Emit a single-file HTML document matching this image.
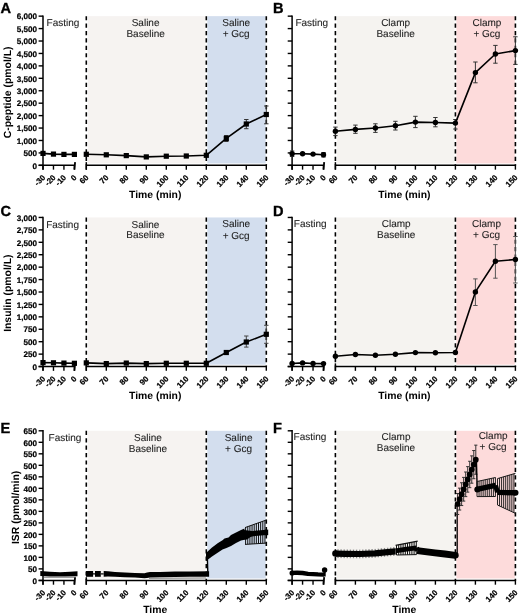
<!DOCTYPE html>
<html><head><meta charset="utf-8"><title>Figure</title>
<style>html,body{margin:0;padding:0;background:#fff;}body{width:520px;height:616px;overflow:hidden;}</style>
</head><body>
<svg width="520" height="616" viewBox="0 0 520 616" style="display:block" text-rendering="geometricPrecision">
<rect x="0" y="0" width="520" height="616" fill="#fff"/>
<rect x="87.9" y="16.15" width="117.4" height="147.3" fill="#f6f3f1"/>
<rect x="207.3" y="16.15" width="58.4" height="147.3" fill="#d3deee"/>
<text x="0.6" y="12.8" font-family='"Liberation Sans", Arial, sans-serif' font-weight="bold" font-size="14.6" stroke="#000" stroke-width="0.35">A</text>
<rect x="337" y="16.15" width="117.4" height="147.3" fill="#f5f3f0"/>
<rect x="456.4" y="16.15" width="58.4" height="147.3" fill="#fddbdb"/>
<text x="272.9" y="13.2" font-family='"Liberation Sans", Arial, sans-serif' font-weight="bold" font-size="14.6" stroke="#000" stroke-width="0.35">B</text>
<rect x="87.9" y="217.45" width="117.4" height="147.2" fill="#f6f3f1"/>
<rect x="207.3" y="217.45" width="58.4" height="147.2" fill="#d3deee"/>
<text x="0.6" y="215.9" font-family='"Liberation Sans", Arial, sans-serif' font-weight="bold" font-size="14.6" stroke="#000" stroke-width="0.35">C</text>
<rect x="337" y="217.45" width="117.4" height="147.2" fill="#f5f3f0"/>
<rect x="456.4" y="217.45" width="58.4" height="147.2" fill="#fddbdb"/>
<text x="272.9" y="215.9" font-family='"Liberation Sans", Arial, sans-serif' font-weight="bold" font-size="14.6" stroke="#000" stroke-width="0.35">D</text>
<rect x="87.9" y="430.8" width="117.4" height="147.7" fill="#f6f3f1"/>
<rect x="207.3" y="430.8" width="58.4" height="147.7" fill="#d3deee"/>
<text x="0.6" y="432.6" font-family='"Liberation Sans", Arial, sans-serif' font-weight="bold" font-size="14.6" stroke="#000" stroke-width="0.35">E</text>
<rect x="337" y="430.8" width="117.4" height="147.7" fill="#f5f3f0"/>
<rect x="456.4" y="430.8" width="58.4" height="147.7" fill="#fddbdb"/>
<text x="272.9" y="432.8" font-family='"Liberation Sans", Arial, sans-serif' font-weight="bold" font-size="14.6" stroke="#000" stroke-width="0.35">F</text>
<line x1="86.3" y1="16.15" x2="86.3" y2="165.35" stroke="#000" stroke-width="1.6" stroke-dasharray="4.2 3.2"/>
<line x1="206.3" y1="16.15" x2="206.3" y2="165.35" stroke="#000" stroke-width="1.6" stroke-dasharray="4.2 3.2"/>
<line x1="266.3" y1="16.15" x2="266.3" y2="165.35" stroke="#000" stroke-width="1.6" stroke-dasharray="4.2 3.2"/>
<line x1="43" y1="15.45" x2="43" y2="169.65" stroke="#000" stroke-width="1.5"/>
<line x1="38.6" y1="165.35" x2="43" y2="165.35" stroke="#000" stroke-width="1.4"/>
<text x="36.9" y="168.55" text-anchor="end" font-family='"Liberation Sans", Arial, sans-serif' font-weight="bold" font-size="8.1" stroke="#000" stroke-width="0.2">0</text>
<line x1="38.6" y1="152.92" x2="43" y2="152.92" stroke="#000" stroke-width="1.4"/>
<text x="36.9" y="156.12" text-anchor="end" font-family='"Liberation Sans", Arial, sans-serif' font-weight="bold" font-size="8.1" stroke="#000" stroke-width="0.2">500</text>
<line x1="38.6" y1="140.48" x2="43" y2="140.48" stroke="#000" stroke-width="1.4"/>
<text x="36.9" y="143.68" text-anchor="end" font-family='"Liberation Sans", Arial, sans-serif' font-weight="bold" font-size="8.1" stroke="#000" stroke-width="0.2">1,000</text>
<line x1="38.6" y1="128.05" x2="43" y2="128.05" stroke="#000" stroke-width="1.4"/>
<text x="36.9" y="131.25" text-anchor="end" font-family='"Liberation Sans", Arial, sans-serif' font-weight="bold" font-size="8.1" stroke="#000" stroke-width="0.2">1,500</text>
<line x1="38.6" y1="115.62" x2="43" y2="115.62" stroke="#000" stroke-width="1.4"/>
<text x="36.9" y="118.82" text-anchor="end" font-family='"Liberation Sans", Arial, sans-serif' font-weight="bold" font-size="8.1" stroke="#000" stroke-width="0.2">2,000</text>
<line x1="38.6" y1="103.18" x2="43" y2="103.18" stroke="#000" stroke-width="1.4"/>
<text x="36.9" y="106.38" text-anchor="end" font-family='"Liberation Sans", Arial, sans-serif' font-weight="bold" font-size="8.1" stroke="#000" stroke-width="0.2">2,500</text>
<line x1="38.6" y1="90.75" x2="43" y2="90.75" stroke="#000" stroke-width="1.4"/>
<text x="36.9" y="93.95" text-anchor="end" font-family='"Liberation Sans", Arial, sans-serif' font-weight="bold" font-size="8.1" stroke="#000" stroke-width="0.2">3,000</text>
<line x1="38.6" y1="78.32" x2="43" y2="78.32" stroke="#000" stroke-width="1.4"/>
<text x="36.9" y="81.52" text-anchor="end" font-family='"Liberation Sans", Arial, sans-serif' font-weight="bold" font-size="8.1" stroke="#000" stroke-width="0.2">3,500</text>
<line x1="38.6" y1="65.88" x2="43" y2="65.88" stroke="#000" stroke-width="1.4"/>
<text x="36.9" y="69.08" text-anchor="end" font-family='"Liberation Sans", Arial, sans-serif' font-weight="bold" font-size="8.1" stroke="#000" stroke-width="0.2">4,000</text>
<line x1="38.6" y1="53.45" x2="43" y2="53.45" stroke="#000" stroke-width="1.4"/>
<text x="36.9" y="56.65" text-anchor="end" font-family='"Liberation Sans", Arial, sans-serif' font-weight="bold" font-size="8.1" stroke="#000" stroke-width="0.2">4,500</text>
<line x1="38.6" y1="41.02" x2="43" y2="41.02" stroke="#000" stroke-width="1.4"/>
<text x="36.9" y="44.22" text-anchor="end" font-family='"Liberation Sans", Arial, sans-serif' font-weight="bold" font-size="8.1" stroke="#000" stroke-width="0.2">5,000</text>
<line x1="38.6" y1="28.58" x2="43" y2="28.58" stroke="#000" stroke-width="1.4"/>
<text x="36.9" y="31.78" text-anchor="end" font-family='"Liberation Sans", Arial, sans-serif' font-weight="bold" font-size="8.1" stroke="#000" stroke-width="0.2">5,500</text>
<line x1="38.6" y1="16.15" x2="43" y2="16.15" stroke="#000" stroke-width="1.4"/>
<text x="36.9" y="19.35" text-anchor="end" font-family='"Liberation Sans", Arial, sans-serif' font-weight="bold" font-size="8.1" stroke="#000" stroke-width="0.2">6,000</text>
<line x1="38.6" y1="165.35" x2="74.4" y2="165.35" stroke="#000" stroke-width="1.5"/>
<line x1="43" y1="165.35" x2="43" y2="169.65" stroke="#000" stroke-width="1.4"/>
<line x1="53.47" y1="165.35" x2="53.47" y2="169.65" stroke="#000" stroke-width="1.4"/>
<line x1="63.93" y1="165.35" x2="63.93" y2="169.65" stroke="#000" stroke-width="1.4"/>
<line x1="74.4" y1="165.35" x2="74.4" y2="169.65" stroke="#000" stroke-width="1.4"/>
<line x1="75.1" y1="162.05" x2="74.4" y2="169.55" stroke="#000" stroke-width="1.8"/>
<line x1="86.3" y1="165.35" x2="267" y2="165.35" stroke="#000" stroke-width="1.5"/>
<line x1="86.3" y1="162.15" x2="86.3" y2="169.65" stroke="#000" stroke-width="1.5"/>
<line x1="86.3" y1="165.35" x2="86.3" y2="169.65" stroke="#000" stroke-width="1.4"/>
<line x1="106.3" y1="165.35" x2="106.3" y2="169.65" stroke="#000" stroke-width="1.4"/>
<line x1="126.3" y1="165.35" x2="126.3" y2="169.65" stroke="#000" stroke-width="1.4"/>
<line x1="146.3" y1="165.35" x2="146.3" y2="169.65" stroke="#000" stroke-width="1.4"/>
<line x1="166.3" y1="165.35" x2="166.3" y2="169.65" stroke="#000" stroke-width="1.4"/>
<line x1="186.3" y1="165.35" x2="186.3" y2="169.65" stroke="#000" stroke-width="1.4"/>
<line x1="206.3" y1="165.35" x2="206.3" y2="169.65" stroke="#000" stroke-width="1.4"/>
<line x1="226.3" y1="165.35" x2="226.3" y2="169.65" stroke="#000" stroke-width="1.4"/>
<line x1="246.3" y1="165.35" x2="246.3" y2="169.65" stroke="#000" stroke-width="1.4"/>
<line x1="266.3" y1="165.35" x2="266.3" y2="169.65" stroke="#000" stroke-width="1.4"/>
<text transform="translate(45.8 178.05) rotate(-45)" text-anchor="end" font-family='"Liberation Sans", Arial, sans-serif' font-weight="bold" font-size="8.0" stroke="#000" stroke-width="0.2">-30</text>
<text transform="translate(56.27 178.05) rotate(-45)" text-anchor="end" font-family='"Liberation Sans", Arial, sans-serif' font-weight="bold" font-size="8.0" stroke="#000" stroke-width="0.2">-20</text>
<text transform="translate(66.73 178.05) rotate(-45)" text-anchor="end" font-family='"Liberation Sans", Arial, sans-serif' font-weight="bold" font-size="8.0" stroke="#000" stroke-width="0.2">-10</text>
<text transform="translate(77.2 178.05) rotate(-45)" text-anchor="end" font-family='"Liberation Sans", Arial, sans-serif' font-weight="bold" font-size="8.0" stroke="#000" stroke-width="0.2">0</text>
<text transform="translate(89.1 178.05) rotate(-45)" text-anchor="end" font-family='"Liberation Sans", Arial, sans-serif' font-weight="bold" font-size="8.0" stroke="#000" stroke-width="0.2">60</text>
<text transform="translate(109.1 178.05) rotate(-45)" text-anchor="end" font-family='"Liberation Sans", Arial, sans-serif' font-weight="bold" font-size="8.0" stroke="#000" stroke-width="0.2">70</text>
<text transform="translate(129.1 178.05) rotate(-45)" text-anchor="end" font-family='"Liberation Sans", Arial, sans-serif' font-weight="bold" font-size="8.0" stroke="#000" stroke-width="0.2">80</text>
<text transform="translate(149.1 178.05) rotate(-45)" text-anchor="end" font-family='"Liberation Sans", Arial, sans-serif' font-weight="bold" font-size="8.0" stroke="#000" stroke-width="0.2">90</text>
<text transform="translate(169.1 178.05) rotate(-45)" text-anchor="end" font-family='"Liberation Sans", Arial, sans-serif' font-weight="bold" font-size="8.0" stroke="#000" stroke-width="0.2">100</text>
<text transform="translate(189.1 178.05) rotate(-45)" text-anchor="end" font-family='"Liberation Sans", Arial, sans-serif' font-weight="bold" font-size="8.0" stroke="#000" stroke-width="0.2">110</text>
<text transform="translate(209.1 178.05) rotate(-45)" text-anchor="end" font-family='"Liberation Sans", Arial, sans-serif' font-weight="bold" font-size="8.0" stroke="#000" stroke-width="0.2">120</text>
<text transform="translate(229.1 178.05) rotate(-45)" text-anchor="end" font-family='"Liberation Sans", Arial, sans-serif' font-weight="bold" font-size="8.0" stroke="#000" stroke-width="0.2">130</text>
<text transform="translate(249.1 178.05) rotate(-45)" text-anchor="end" font-family='"Liberation Sans", Arial, sans-serif' font-weight="bold" font-size="8.0" stroke="#000" stroke-width="0.2">140</text>
<text transform="translate(269.1 178.05) rotate(-45)" text-anchor="end" font-family='"Liberation Sans", Arial, sans-serif' font-weight="bold" font-size="8.0" stroke="#000" stroke-width="0.2">150</text>
<text x="155.2" y="198.05" text-anchor="middle" font-family='"Liberation Sans", Arial, sans-serif' font-weight="bold" font-size="10.4">Time (min)</text>
<text transform="translate(11.2 92.4) rotate(-90)" text-anchor="middle" font-family='"Liberation Sans", Arial, sans-serif' font-weight="bold" font-size="10.4">C-peptide (pmol/L)</text>
<line x1="335.4" y1="16.15" x2="335.4" y2="165.35" stroke="#000" stroke-width="1.6" stroke-dasharray="4.2 3.2"/>
<line x1="455.4" y1="16.15" x2="455.4" y2="165.35" stroke="#000" stroke-width="1.6" stroke-dasharray="4.2 3.2"/>
<line x1="515.4" y1="16.15" x2="515.4" y2="165.35" stroke="#000" stroke-width="1.6" stroke-dasharray="4.2 3.2"/>
<line x1="292.1" y1="15.45" x2="292.1" y2="169.65" stroke="#000" stroke-width="1.5"/>
<line x1="287.7" y1="165.35" x2="292.1" y2="165.35" stroke="#000" stroke-width="1.4"/>
<line x1="287.7" y1="152.92" x2="292.1" y2="152.92" stroke="#000" stroke-width="1.4"/>
<line x1="287.7" y1="140.48" x2="292.1" y2="140.48" stroke="#000" stroke-width="1.4"/>
<line x1="287.7" y1="128.05" x2="292.1" y2="128.05" stroke="#000" stroke-width="1.4"/>
<line x1="287.7" y1="115.62" x2="292.1" y2="115.62" stroke="#000" stroke-width="1.4"/>
<line x1="287.7" y1="103.18" x2="292.1" y2="103.18" stroke="#000" stroke-width="1.4"/>
<line x1="287.7" y1="90.75" x2="292.1" y2="90.75" stroke="#000" stroke-width="1.4"/>
<line x1="287.7" y1="78.32" x2="292.1" y2="78.32" stroke="#000" stroke-width="1.4"/>
<line x1="287.7" y1="65.88" x2="292.1" y2="65.88" stroke="#000" stroke-width="1.4"/>
<line x1="287.7" y1="53.45" x2="292.1" y2="53.45" stroke="#000" stroke-width="1.4"/>
<line x1="287.7" y1="41.02" x2="292.1" y2="41.02" stroke="#000" stroke-width="1.4"/>
<line x1="287.7" y1="28.58" x2="292.1" y2="28.58" stroke="#000" stroke-width="1.4"/>
<line x1="287.7" y1="16.15" x2="292.1" y2="16.15" stroke="#000" stroke-width="1.4"/>
<line x1="287.7" y1="165.35" x2="323.5" y2="165.35" stroke="#000" stroke-width="1.5"/>
<line x1="292.1" y1="165.35" x2="292.1" y2="169.65" stroke="#000" stroke-width="1.4"/>
<line x1="302.57" y1="165.35" x2="302.57" y2="169.65" stroke="#000" stroke-width="1.4"/>
<line x1="313.03" y1="165.35" x2="313.03" y2="169.65" stroke="#000" stroke-width="1.4"/>
<line x1="323.5" y1="165.35" x2="323.5" y2="169.65" stroke="#000" stroke-width="1.4"/>
<line x1="324.2" y1="162.05" x2="323.5" y2="169.55" stroke="#000" stroke-width="1.8"/>
<line x1="335.4" y1="165.35" x2="516.1" y2="165.35" stroke="#000" stroke-width="1.5"/>
<line x1="335.4" y1="162.15" x2="335.4" y2="169.65" stroke="#000" stroke-width="1.5"/>
<line x1="335.4" y1="165.35" x2="335.4" y2="169.65" stroke="#000" stroke-width="1.4"/>
<line x1="355.4" y1="165.35" x2="355.4" y2="169.65" stroke="#000" stroke-width="1.4"/>
<line x1="375.4" y1="165.35" x2="375.4" y2="169.65" stroke="#000" stroke-width="1.4"/>
<line x1="395.4" y1="165.35" x2="395.4" y2="169.65" stroke="#000" stroke-width="1.4"/>
<line x1="415.4" y1="165.35" x2="415.4" y2="169.65" stroke="#000" stroke-width="1.4"/>
<line x1="435.4" y1="165.35" x2="435.4" y2="169.65" stroke="#000" stroke-width="1.4"/>
<line x1="455.4" y1="165.35" x2="455.4" y2="169.65" stroke="#000" stroke-width="1.4"/>
<line x1="475.4" y1="165.35" x2="475.4" y2="169.65" stroke="#000" stroke-width="1.4"/>
<line x1="495.4" y1="165.35" x2="495.4" y2="169.65" stroke="#000" stroke-width="1.4"/>
<line x1="515.4" y1="165.35" x2="515.4" y2="169.65" stroke="#000" stroke-width="1.4"/>
<text transform="translate(294.9 178.05) rotate(-45)" text-anchor="end" font-family='"Liberation Sans", Arial, sans-serif' font-weight="bold" font-size="8.0" stroke="#000" stroke-width="0.2">-30</text>
<text transform="translate(305.37 178.05) rotate(-45)" text-anchor="end" font-family='"Liberation Sans", Arial, sans-serif' font-weight="bold" font-size="8.0" stroke="#000" stroke-width="0.2">-20</text>
<text transform="translate(315.83 178.05) rotate(-45)" text-anchor="end" font-family='"Liberation Sans", Arial, sans-serif' font-weight="bold" font-size="8.0" stroke="#000" stroke-width="0.2">-10</text>
<text transform="translate(326.3 178.05) rotate(-45)" text-anchor="end" font-family='"Liberation Sans", Arial, sans-serif' font-weight="bold" font-size="8.0" stroke="#000" stroke-width="0.2">0</text>
<text transform="translate(338.2 178.05) rotate(-45)" text-anchor="end" font-family='"Liberation Sans", Arial, sans-serif' font-weight="bold" font-size="8.0" stroke="#000" stroke-width="0.2">60</text>
<text transform="translate(358.2 178.05) rotate(-45)" text-anchor="end" font-family='"Liberation Sans", Arial, sans-serif' font-weight="bold" font-size="8.0" stroke="#000" stroke-width="0.2">70</text>
<text transform="translate(378.2 178.05) rotate(-45)" text-anchor="end" font-family='"Liberation Sans", Arial, sans-serif' font-weight="bold" font-size="8.0" stroke="#000" stroke-width="0.2">80</text>
<text transform="translate(398.2 178.05) rotate(-45)" text-anchor="end" font-family='"Liberation Sans", Arial, sans-serif' font-weight="bold" font-size="8.0" stroke="#000" stroke-width="0.2">90</text>
<text transform="translate(418.2 178.05) rotate(-45)" text-anchor="end" font-family='"Liberation Sans", Arial, sans-serif' font-weight="bold" font-size="8.0" stroke="#000" stroke-width="0.2">100</text>
<text transform="translate(438.2 178.05) rotate(-45)" text-anchor="end" font-family='"Liberation Sans", Arial, sans-serif' font-weight="bold" font-size="8.0" stroke="#000" stroke-width="0.2">110</text>
<text transform="translate(458.2 178.05) rotate(-45)" text-anchor="end" font-family='"Liberation Sans", Arial, sans-serif' font-weight="bold" font-size="8.0" stroke="#000" stroke-width="0.2">120</text>
<text transform="translate(478.2 178.05) rotate(-45)" text-anchor="end" font-family='"Liberation Sans", Arial, sans-serif' font-weight="bold" font-size="8.0" stroke="#000" stroke-width="0.2">130</text>
<text transform="translate(498.2 178.05) rotate(-45)" text-anchor="end" font-family='"Liberation Sans", Arial, sans-serif' font-weight="bold" font-size="8.0" stroke="#000" stroke-width="0.2">140</text>
<text transform="translate(518.2 178.05) rotate(-45)" text-anchor="end" font-family='"Liberation Sans", Arial, sans-serif' font-weight="bold" font-size="8.0" stroke="#000" stroke-width="0.2">150</text>
<text x="404.3" y="198.05" text-anchor="middle" font-family='"Liberation Sans", Arial, sans-serif' font-weight="bold" font-size="10.4">Time (min)</text>
<line x1="86.3" y1="217.45" x2="86.3" y2="366.55" stroke="#000" stroke-width="1.6" stroke-dasharray="4.2 3.2"/>
<line x1="206.3" y1="217.45" x2="206.3" y2="366.55" stroke="#000" stroke-width="1.6" stroke-dasharray="4.2 3.2"/>
<line x1="266.3" y1="217.45" x2="266.3" y2="366.55" stroke="#000" stroke-width="1.6" stroke-dasharray="4.2 3.2"/>
<line x1="43" y1="216.75" x2="43" y2="370.85" stroke="#000" stroke-width="1.5"/>
<line x1="38.6" y1="366.55" x2="43" y2="366.55" stroke="#000" stroke-width="1.4"/>
<text x="36.9" y="369.75" text-anchor="end" font-family='"Liberation Sans", Arial, sans-serif' font-weight="bold" font-size="8.1" stroke="#000" stroke-width="0.2">0</text>
<line x1="38.6" y1="354.12" x2="43" y2="354.12" stroke="#000" stroke-width="1.4"/>
<text x="36.9" y="357.32" text-anchor="end" font-family='"Liberation Sans", Arial, sans-serif' font-weight="bold" font-size="8.1" stroke="#000" stroke-width="0.2">250</text>
<line x1="38.6" y1="341.7" x2="43" y2="341.7" stroke="#000" stroke-width="1.4"/>
<text x="36.9" y="344.9" text-anchor="end" font-family='"Liberation Sans", Arial, sans-serif' font-weight="bold" font-size="8.1" stroke="#000" stroke-width="0.2">500</text>
<line x1="38.6" y1="329.27" x2="43" y2="329.27" stroke="#000" stroke-width="1.4"/>
<text x="36.9" y="332.47" text-anchor="end" font-family='"Liberation Sans", Arial, sans-serif' font-weight="bold" font-size="8.1" stroke="#000" stroke-width="0.2">750</text>
<line x1="38.6" y1="316.85" x2="43" y2="316.85" stroke="#000" stroke-width="1.4"/>
<text x="36.9" y="320.05" text-anchor="end" font-family='"Liberation Sans", Arial, sans-serif' font-weight="bold" font-size="8.1" stroke="#000" stroke-width="0.2">1,000</text>
<line x1="38.6" y1="304.43" x2="43" y2="304.43" stroke="#000" stroke-width="1.4"/>
<text x="36.9" y="307.62" text-anchor="end" font-family='"Liberation Sans", Arial, sans-serif' font-weight="bold" font-size="8.1" stroke="#000" stroke-width="0.2">1,250</text>
<line x1="38.6" y1="292" x2="43" y2="292" stroke="#000" stroke-width="1.4"/>
<text x="36.9" y="295.2" text-anchor="end" font-family='"Liberation Sans", Arial, sans-serif' font-weight="bold" font-size="8.1" stroke="#000" stroke-width="0.2">1,500</text>
<line x1="38.6" y1="279.57" x2="43" y2="279.57" stroke="#000" stroke-width="1.4"/>
<text x="36.9" y="282.77" text-anchor="end" font-family='"Liberation Sans", Arial, sans-serif' font-weight="bold" font-size="8.1" stroke="#000" stroke-width="0.2">1,750</text>
<line x1="38.6" y1="267.15" x2="43" y2="267.15" stroke="#000" stroke-width="1.4"/>
<text x="36.9" y="270.35" text-anchor="end" font-family='"Liberation Sans", Arial, sans-serif' font-weight="bold" font-size="8.1" stroke="#000" stroke-width="0.2">2,000</text>
<line x1="38.6" y1="254.72" x2="43" y2="254.72" stroke="#000" stroke-width="1.4"/>
<text x="36.9" y="257.93" text-anchor="end" font-family='"Liberation Sans", Arial, sans-serif' font-weight="bold" font-size="8.1" stroke="#000" stroke-width="0.2">2,250</text>
<line x1="38.6" y1="242.3" x2="43" y2="242.3" stroke="#000" stroke-width="1.4"/>
<text x="36.9" y="245.5" text-anchor="end" font-family='"Liberation Sans", Arial, sans-serif' font-weight="bold" font-size="8.1" stroke="#000" stroke-width="0.2">2,500</text>
<line x1="38.6" y1="229.88" x2="43" y2="229.88" stroke="#000" stroke-width="1.4"/>
<text x="36.9" y="233.07" text-anchor="end" font-family='"Liberation Sans", Arial, sans-serif' font-weight="bold" font-size="8.1" stroke="#000" stroke-width="0.2">2,750</text>
<line x1="38.6" y1="217.45" x2="43" y2="217.45" stroke="#000" stroke-width="1.4"/>
<text x="36.9" y="220.65" text-anchor="end" font-family='"Liberation Sans", Arial, sans-serif' font-weight="bold" font-size="8.1" stroke="#000" stroke-width="0.2">3,000</text>
<line x1="38.6" y1="366.55" x2="74.4" y2="366.55" stroke="#000" stroke-width="1.5"/>
<line x1="43" y1="366.55" x2="43" y2="370.85" stroke="#000" stroke-width="1.4"/>
<line x1="53.47" y1="366.55" x2="53.47" y2="370.85" stroke="#000" stroke-width="1.4"/>
<line x1="63.93" y1="366.55" x2="63.93" y2="370.85" stroke="#000" stroke-width="1.4"/>
<line x1="74.4" y1="366.55" x2="74.4" y2="370.85" stroke="#000" stroke-width="1.4"/>
<line x1="75.1" y1="363.25" x2="74.4" y2="370.75" stroke="#000" stroke-width="1.8"/>
<line x1="86.3" y1="366.55" x2="267" y2="366.55" stroke="#000" stroke-width="1.5"/>
<line x1="86.3" y1="363.35" x2="86.3" y2="370.85" stroke="#000" stroke-width="1.5"/>
<line x1="86.3" y1="366.55" x2="86.3" y2="370.85" stroke="#000" stroke-width="1.4"/>
<line x1="106.3" y1="366.55" x2="106.3" y2="370.85" stroke="#000" stroke-width="1.4"/>
<line x1="126.3" y1="366.55" x2="126.3" y2="370.85" stroke="#000" stroke-width="1.4"/>
<line x1="146.3" y1="366.55" x2="146.3" y2="370.85" stroke="#000" stroke-width="1.4"/>
<line x1="166.3" y1="366.55" x2="166.3" y2="370.85" stroke="#000" stroke-width="1.4"/>
<line x1="186.3" y1="366.55" x2="186.3" y2="370.85" stroke="#000" stroke-width="1.4"/>
<line x1="206.3" y1="366.55" x2="206.3" y2="370.85" stroke="#000" stroke-width="1.4"/>
<line x1="226.3" y1="366.55" x2="226.3" y2="370.85" stroke="#000" stroke-width="1.4"/>
<line x1="246.3" y1="366.55" x2="246.3" y2="370.85" stroke="#000" stroke-width="1.4"/>
<line x1="266.3" y1="366.55" x2="266.3" y2="370.85" stroke="#000" stroke-width="1.4"/>
<text transform="translate(45.8 379.25) rotate(-45)" text-anchor="end" font-family='"Liberation Sans", Arial, sans-serif' font-weight="bold" font-size="8.0" stroke="#000" stroke-width="0.2">-30</text>
<text transform="translate(56.27 379.25) rotate(-45)" text-anchor="end" font-family='"Liberation Sans", Arial, sans-serif' font-weight="bold" font-size="8.0" stroke="#000" stroke-width="0.2">-20</text>
<text transform="translate(66.73 379.25) rotate(-45)" text-anchor="end" font-family='"Liberation Sans", Arial, sans-serif' font-weight="bold" font-size="8.0" stroke="#000" stroke-width="0.2">-10</text>
<text transform="translate(77.2 379.25) rotate(-45)" text-anchor="end" font-family='"Liberation Sans", Arial, sans-serif' font-weight="bold" font-size="8.0" stroke="#000" stroke-width="0.2">0</text>
<text transform="translate(89.1 379.25) rotate(-45)" text-anchor="end" font-family='"Liberation Sans", Arial, sans-serif' font-weight="bold" font-size="8.0" stroke="#000" stroke-width="0.2">60</text>
<text transform="translate(109.1 379.25) rotate(-45)" text-anchor="end" font-family='"Liberation Sans", Arial, sans-serif' font-weight="bold" font-size="8.0" stroke="#000" stroke-width="0.2">70</text>
<text transform="translate(129.1 379.25) rotate(-45)" text-anchor="end" font-family='"Liberation Sans", Arial, sans-serif' font-weight="bold" font-size="8.0" stroke="#000" stroke-width="0.2">80</text>
<text transform="translate(149.1 379.25) rotate(-45)" text-anchor="end" font-family='"Liberation Sans", Arial, sans-serif' font-weight="bold" font-size="8.0" stroke="#000" stroke-width="0.2">90</text>
<text transform="translate(169.1 379.25) rotate(-45)" text-anchor="end" font-family='"Liberation Sans", Arial, sans-serif' font-weight="bold" font-size="8.0" stroke="#000" stroke-width="0.2">100</text>
<text transform="translate(189.1 379.25) rotate(-45)" text-anchor="end" font-family='"Liberation Sans", Arial, sans-serif' font-weight="bold" font-size="8.0" stroke="#000" stroke-width="0.2">110</text>
<text transform="translate(209.1 379.25) rotate(-45)" text-anchor="end" font-family='"Liberation Sans", Arial, sans-serif' font-weight="bold" font-size="8.0" stroke="#000" stroke-width="0.2">120</text>
<text transform="translate(229.1 379.25) rotate(-45)" text-anchor="end" font-family='"Liberation Sans", Arial, sans-serif' font-weight="bold" font-size="8.0" stroke="#000" stroke-width="0.2">130</text>
<text transform="translate(249.1 379.25) rotate(-45)" text-anchor="end" font-family='"Liberation Sans", Arial, sans-serif' font-weight="bold" font-size="8.0" stroke="#000" stroke-width="0.2">140</text>
<text transform="translate(269.1 379.25) rotate(-45)" text-anchor="end" font-family='"Liberation Sans", Arial, sans-serif' font-weight="bold" font-size="8.0" stroke="#000" stroke-width="0.2">150</text>
<text x="155.2" y="399.25" text-anchor="middle" font-family='"Liberation Sans", Arial, sans-serif' font-weight="bold" font-size="10.4">Time (min)</text>
<text transform="translate(11.2 293.2) rotate(-90)" text-anchor="middle" font-family='"Liberation Sans", Arial, sans-serif' font-weight="bold" font-size="10.4">Insulin (pmol/L)</text>
<line x1="335.4" y1="217.45" x2="335.4" y2="366.55" stroke="#000" stroke-width="1.6" stroke-dasharray="4.2 3.2"/>
<line x1="455.4" y1="217.45" x2="455.4" y2="366.55" stroke="#000" stroke-width="1.6" stroke-dasharray="4.2 3.2"/>
<line x1="515.4" y1="217.45" x2="515.4" y2="366.55" stroke="#000" stroke-width="1.6" stroke-dasharray="4.2 3.2"/>
<line x1="292.1" y1="216.75" x2="292.1" y2="370.85" stroke="#000" stroke-width="1.5"/>
<line x1="287.7" y1="366.55" x2="292.1" y2="366.55" stroke="#000" stroke-width="1.4"/>
<line x1="287.7" y1="354.12" x2="292.1" y2="354.12" stroke="#000" stroke-width="1.4"/>
<line x1="287.7" y1="341.7" x2="292.1" y2="341.7" stroke="#000" stroke-width="1.4"/>
<line x1="287.7" y1="329.27" x2="292.1" y2="329.27" stroke="#000" stroke-width="1.4"/>
<line x1="287.7" y1="316.85" x2="292.1" y2="316.85" stroke="#000" stroke-width="1.4"/>
<line x1="287.7" y1="304.43" x2="292.1" y2="304.43" stroke="#000" stroke-width="1.4"/>
<line x1="287.7" y1="292" x2="292.1" y2="292" stroke="#000" stroke-width="1.4"/>
<line x1="287.7" y1="279.57" x2="292.1" y2="279.57" stroke="#000" stroke-width="1.4"/>
<line x1="287.7" y1="267.15" x2="292.1" y2="267.15" stroke="#000" stroke-width="1.4"/>
<line x1="287.7" y1="254.72" x2="292.1" y2="254.72" stroke="#000" stroke-width="1.4"/>
<line x1="287.7" y1="242.3" x2="292.1" y2="242.3" stroke="#000" stroke-width="1.4"/>
<line x1="287.7" y1="229.88" x2="292.1" y2="229.88" stroke="#000" stroke-width="1.4"/>
<line x1="287.7" y1="217.45" x2="292.1" y2="217.45" stroke="#000" stroke-width="1.4"/>
<line x1="287.7" y1="366.55" x2="323.5" y2="366.55" stroke="#000" stroke-width="1.5"/>
<line x1="292.1" y1="366.55" x2="292.1" y2="370.85" stroke="#000" stroke-width="1.4"/>
<line x1="302.57" y1="366.55" x2="302.57" y2="370.85" stroke="#000" stroke-width="1.4"/>
<line x1="313.03" y1="366.55" x2="313.03" y2="370.85" stroke="#000" stroke-width="1.4"/>
<line x1="323.5" y1="366.55" x2="323.5" y2="370.85" stroke="#000" stroke-width="1.4"/>
<line x1="324.2" y1="363.25" x2="323.5" y2="370.75" stroke="#000" stroke-width="1.8"/>
<line x1="335.4" y1="366.55" x2="516.1" y2="366.55" stroke="#000" stroke-width="1.5"/>
<line x1="335.4" y1="363.35" x2="335.4" y2="370.85" stroke="#000" stroke-width="1.5"/>
<line x1="335.4" y1="366.55" x2="335.4" y2="370.85" stroke="#000" stroke-width="1.4"/>
<line x1="355.4" y1="366.55" x2="355.4" y2="370.85" stroke="#000" stroke-width="1.4"/>
<line x1="375.4" y1="366.55" x2="375.4" y2="370.85" stroke="#000" stroke-width="1.4"/>
<line x1="395.4" y1="366.55" x2="395.4" y2="370.85" stroke="#000" stroke-width="1.4"/>
<line x1="415.4" y1="366.55" x2="415.4" y2="370.85" stroke="#000" stroke-width="1.4"/>
<line x1="435.4" y1="366.55" x2="435.4" y2="370.85" stroke="#000" stroke-width="1.4"/>
<line x1="455.4" y1="366.55" x2="455.4" y2="370.85" stroke="#000" stroke-width="1.4"/>
<line x1="475.4" y1="366.55" x2="475.4" y2="370.85" stroke="#000" stroke-width="1.4"/>
<line x1="495.4" y1="366.55" x2="495.4" y2="370.85" stroke="#000" stroke-width="1.4"/>
<line x1="515.4" y1="366.55" x2="515.4" y2="370.85" stroke="#000" stroke-width="1.4"/>
<text transform="translate(294.9 379.25) rotate(-45)" text-anchor="end" font-family='"Liberation Sans", Arial, sans-serif' font-weight="bold" font-size="8.0" stroke="#000" stroke-width="0.2">-30</text>
<text transform="translate(305.37 379.25) rotate(-45)" text-anchor="end" font-family='"Liberation Sans", Arial, sans-serif' font-weight="bold" font-size="8.0" stroke="#000" stroke-width="0.2">-20</text>
<text transform="translate(315.83 379.25) rotate(-45)" text-anchor="end" font-family='"Liberation Sans", Arial, sans-serif' font-weight="bold" font-size="8.0" stroke="#000" stroke-width="0.2">-10</text>
<text transform="translate(326.3 379.25) rotate(-45)" text-anchor="end" font-family='"Liberation Sans", Arial, sans-serif' font-weight="bold" font-size="8.0" stroke="#000" stroke-width="0.2">0</text>
<text transform="translate(338.2 379.25) rotate(-45)" text-anchor="end" font-family='"Liberation Sans", Arial, sans-serif' font-weight="bold" font-size="8.0" stroke="#000" stroke-width="0.2">60</text>
<text transform="translate(358.2 379.25) rotate(-45)" text-anchor="end" font-family='"Liberation Sans", Arial, sans-serif' font-weight="bold" font-size="8.0" stroke="#000" stroke-width="0.2">70</text>
<text transform="translate(378.2 379.25) rotate(-45)" text-anchor="end" font-family='"Liberation Sans", Arial, sans-serif' font-weight="bold" font-size="8.0" stroke="#000" stroke-width="0.2">80</text>
<text transform="translate(398.2 379.25) rotate(-45)" text-anchor="end" font-family='"Liberation Sans", Arial, sans-serif' font-weight="bold" font-size="8.0" stroke="#000" stroke-width="0.2">90</text>
<text transform="translate(418.2 379.25) rotate(-45)" text-anchor="end" font-family='"Liberation Sans", Arial, sans-serif' font-weight="bold" font-size="8.0" stroke="#000" stroke-width="0.2">100</text>
<text transform="translate(438.2 379.25) rotate(-45)" text-anchor="end" font-family='"Liberation Sans", Arial, sans-serif' font-weight="bold" font-size="8.0" stroke="#000" stroke-width="0.2">110</text>
<text transform="translate(458.2 379.25) rotate(-45)" text-anchor="end" font-family='"Liberation Sans", Arial, sans-serif' font-weight="bold" font-size="8.0" stroke="#000" stroke-width="0.2">120</text>
<text transform="translate(478.2 379.25) rotate(-45)" text-anchor="end" font-family='"Liberation Sans", Arial, sans-serif' font-weight="bold" font-size="8.0" stroke="#000" stroke-width="0.2">130</text>
<text transform="translate(498.2 379.25) rotate(-45)" text-anchor="end" font-family='"Liberation Sans", Arial, sans-serif' font-weight="bold" font-size="8.0" stroke="#000" stroke-width="0.2">140</text>
<text transform="translate(518.2 379.25) rotate(-45)" text-anchor="end" font-family='"Liberation Sans", Arial, sans-serif' font-weight="bold" font-size="8.0" stroke="#000" stroke-width="0.2">150</text>
<text x="404.3" y="399.25" text-anchor="middle" font-family='"Liberation Sans", Arial, sans-serif' font-weight="bold" font-size="10.4">Time (min)</text>
<line x1="86.3" y1="430.8" x2="86.3" y2="580.4" stroke="#000" stroke-width="1.6" stroke-dasharray="4.2 3.2"/>
<line x1="206.3" y1="430.8" x2="206.3" y2="580.4" stroke="#000" stroke-width="1.6" stroke-dasharray="4.2 3.2"/>
<line x1="266.3" y1="430.8" x2="266.3" y2="580.4" stroke="#000" stroke-width="1.6" stroke-dasharray="4.2 3.2"/>
<line x1="43" y1="430.1" x2="43" y2="584.7" stroke="#000" stroke-width="1.5"/>
<line x1="38.6" y1="580.4" x2="43" y2="580.4" stroke="#000" stroke-width="1.4"/>
<text x="36.9" y="583.6" text-anchor="end" font-family='"Liberation Sans", Arial, sans-serif' font-weight="bold" font-size="8.1" stroke="#000" stroke-width="0.2">0</text>
<line x1="38.6" y1="568.89" x2="43" y2="568.89" stroke="#000" stroke-width="1.4"/>
<text x="36.9" y="572.09" text-anchor="end" font-family='"Liberation Sans", Arial, sans-serif' font-weight="bold" font-size="8.1" stroke="#000" stroke-width="0.2">50</text>
<line x1="38.6" y1="557.38" x2="43" y2="557.38" stroke="#000" stroke-width="1.4"/>
<text x="36.9" y="560.58" text-anchor="end" font-family='"Liberation Sans", Arial, sans-serif' font-weight="bold" font-size="8.1" stroke="#000" stroke-width="0.2">100</text>
<line x1="38.6" y1="545.88" x2="43" y2="545.88" stroke="#000" stroke-width="1.4"/>
<text x="36.9" y="549.08" text-anchor="end" font-family='"Liberation Sans", Arial, sans-serif' font-weight="bold" font-size="8.1" stroke="#000" stroke-width="0.2">150</text>
<line x1="38.6" y1="534.37" x2="43" y2="534.37" stroke="#000" stroke-width="1.4"/>
<text x="36.9" y="537.57" text-anchor="end" font-family='"Liberation Sans", Arial, sans-serif' font-weight="bold" font-size="8.1" stroke="#000" stroke-width="0.2">200</text>
<line x1="38.6" y1="522.86" x2="43" y2="522.86" stroke="#000" stroke-width="1.4"/>
<text x="36.9" y="526.06" text-anchor="end" font-family='"Liberation Sans", Arial, sans-serif' font-weight="bold" font-size="8.1" stroke="#000" stroke-width="0.2">250</text>
<line x1="38.6" y1="511.35" x2="43" y2="511.35" stroke="#000" stroke-width="1.4"/>
<text x="36.9" y="514.55" text-anchor="end" font-family='"Liberation Sans", Arial, sans-serif' font-weight="bold" font-size="8.1" stroke="#000" stroke-width="0.2">300</text>
<line x1="38.6" y1="499.85" x2="43" y2="499.85" stroke="#000" stroke-width="1.4"/>
<text x="36.9" y="503.05" text-anchor="end" font-family='"Liberation Sans", Arial, sans-serif' font-weight="bold" font-size="8.1" stroke="#000" stroke-width="0.2">350</text>
<line x1="38.6" y1="488.34" x2="43" y2="488.34" stroke="#000" stroke-width="1.4"/>
<text x="36.9" y="491.54" text-anchor="end" font-family='"Liberation Sans", Arial, sans-serif' font-weight="bold" font-size="8.1" stroke="#000" stroke-width="0.2">400</text>
<line x1="38.6" y1="476.83" x2="43" y2="476.83" stroke="#000" stroke-width="1.4"/>
<text x="36.9" y="480.03" text-anchor="end" font-family='"Liberation Sans", Arial, sans-serif' font-weight="bold" font-size="8.1" stroke="#000" stroke-width="0.2">450</text>
<line x1="38.6" y1="465.32" x2="43" y2="465.32" stroke="#000" stroke-width="1.4"/>
<text x="36.9" y="468.52" text-anchor="end" font-family='"Liberation Sans", Arial, sans-serif' font-weight="bold" font-size="8.1" stroke="#000" stroke-width="0.2">500</text>
<line x1="38.6" y1="453.82" x2="43" y2="453.82" stroke="#000" stroke-width="1.4"/>
<text x="36.9" y="457.02" text-anchor="end" font-family='"Liberation Sans", Arial, sans-serif' font-weight="bold" font-size="8.1" stroke="#000" stroke-width="0.2">550</text>
<line x1="38.6" y1="442.31" x2="43" y2="442.31" stroke="#000" stroke-width="1.4"/>
<text x="36.9" y="445.51" text-anchor="end" font-family='"Liberation Sans", Arial, sans-serif' font-weight="bold" font-size="8.1" stroke="#000" stroke-width="0.2">600</text>
<line x1="38.6" y1="430.8" x2="43" y2="430.8" stroke="#000" stroke-width="1.4"/>
<text x="36.9" y="434" text-anchor="end" font-family='"Liberation Sans", Arial, sans-serif' font-weight="bold" font-size="8.1" stroke="#000" stroke-width="0.2">650</text>
<line x1="38.6" y1="580.4" x2="74.4" y2="580.4" stroke="#000" stroke-width="1.5"/>
<line x1="43" y1="580.4" x2="43" y2="584.7" stroke="#000" stroke-width="1.4"/>
<line x1="53.47" y1="580.4" x2="53.47" y2="584.7" stroke="#000" stroke-width="1.4"/>
<line x1="63.93" y1="580.4" x2="63.93" y2="584.7" stroke="#000" stroke-width="1.4"/>
<line x1="74.4" y1="580.4" x2="74.4" y2="584.7" stroke="#000" stroke-width="1.4"/>
<line x1="75.1" y1="577.1" x2="74.4" y2="584.6" stroke="#000" stroke-width="1.8"/>
<line x1="86.3" y1="580.4" x2="267" y2="580.4" stroke="#000" stroke-width="1.5"/>
<line x1="86.3" y1="577.2" x2="86.3" y2="584.7" stroke="#000" stroke-width="1.5"/>
<line x1="86.3" y1="580.4" x2="86.3" y2="584.7" stroke="#000" stroke-width="1.4"/>
<line x1="106.3" y1="580.4" x2="106.3" y2="584.7" stroke="#000" stroke-width="1.4"/>
<line x1="126.3" y1="580.4" x2="126.3" y2="584.7" stroke="#000" stroke-width="1.4"/>
<line x1="146.3" y1="580.4" x2="146.3" y2="584.7" stroke="#000" stroke-width="1.4"/>
<line x1="166.3" y1="580.4" x2="166.3" y2="584.7" stroke="#000" stroke-width="1.4"/>
<line x1="186.3" y1="580.4" x2="186.3" y2="584.7" stroke="#000" stroke-width="1.4"/>
<line x1="206.3" y1="580.4" x2="206.3" y2="584.7" stroke="#000" stroke-width="1.4"/>
<line x1="226.3" y1="580.4" x2="226.3" y2="584.7" stroke="#000" stroke-width="1.4"/>
<line x1="246.3" y1="580.4" x2="246.3" y2="584.7" stroke="#000" stroke-width="1.4"/>
<line x1="266.3" y1="580.4" x2="266.3" y2="584.7" stroke="#000" stroke-width="1.4"/>
<text transform="translate(45.8 593.1) rotate(-45)" text-anchor="end" font-family='"Liberation Sans", Arial, sans-serif' font-weight="bold" font-size="8.0" stroke="#000" stroke-width="0.2">-30</text>
<text transform="translate(56.27 593.1) rotate(-45)" text-anchor="end" font-family='"Liberation Sans", Arial, sans-serif' font-weight="bold" font-size="8.0" stroke="#000" stroke-width="0.2">-20</text>
<text transform="translate(66.73 593.1) rotate(-45)" text-anchor="end" font-family='"Liberation Sans", Arial, sans-serif' font-weight="bold" font-size="8.0" stroke="#000" stroke-width="0.2">-10</text>
<text transform="translate(77.2 593.1) rotate(-45)" text-anchor="end" font-family='"Liberation Sans", Arial, sans-serif' font-weight="bold" font-size="8.0" stroke="#000" stroke-width="0.2">0</text>
<text transform="translate(89.1 593.1) rotate(-45)" text-anchor="end" font-family='"Liberation Sans", Arial, sans-serif' font-weight="bold" font-size="8.0" stroke="#000" stroke-width="0.2">60</text>
<text transform="translate(109.1 593.1) rotate(-45)" text-anchor="end" font-family='"Liberation Sans", Arial, sans-serif' font-weight="bold" font-size="8.0" stroke="#000" stroke-width="0.2">70</text>
<text transform="translate(129.1 593.1) rotate(-45)" text-anchor="end" font-family='"Liberation Sans", Arial, sans-serif' font-weight="bold" font-size="8.0" stroke="#000" stroke-width="0.2">80</text>
<text transform="translate(149.1 593.1) rotate(-45)" text-anchor="end" font-family='"Liberation Sans", Arial, sans-serif' font-weight="bold" font-size="8.0" stroke="#000" stroke-width="0.2">90</text>
<text transform="translate(169.1 593.1) rotate(-45)" text-anchor="end" font-family='"Liberation Sans", Arial, sans-serif' font-weight="bold" font-size="8.0" stroke="#000" stroke-width="0.2">100</text>
<text transform="translate(189.1 593.1) rotate(-45)" text-anchor="end" font-family='"Liberation Sans", Arial, sans-serif' font-weight="bold" font-size="8.0" stroke="#000" stroke-width="0.2">110</text>
<text transform="translate(209.1 593.1) rotate(-45)" text-anchor="end" font-family='"Liberation Sans", Arial, sans-serif' font-weight="bold" font-size="8.0" stroke="#000" stroke-width="0.2">120</text>
<text transform="translate(229.1 593.1) rotate(-45)" text-anchor="end" font-family='"Liberation Sans", Arial, sans-serif' font-weight="bold" font-size="8.0" stroke="#000" stroke-width="0.2">130</text>
<text transform="translate(249.1 593.1) rotate(-45)" text-anchor="end" font-family='"Liberation Sans", Arial, sans-serif' font-weight="bold" font-size="8.0" stroke="#000" stroke-width="0.2">140</text>
<text transform="translate(269.1 593.1) rotate(-45)" text-anchor="end" font-family='"Liberation Sans", Arial, sans-serif' font-weight="bold" font-size="8.0" stroke="#000" stroke-width="0.2">150</text>
<text x="155.2" y="613.1" text-anchor="middle" font-family='"Liberation Sans", Arial, sans-serif' font-weight="bold" font-size="10.4">Time</text>
<text transform="translate(18.8 507.4) rotate(-90)" text-anchor="middle" font-family='"Liberation Sans", Arial, sans-serif' font-weight="bold" font-size="10.4">ISR (pmol/min)</text>
<line x1="335.4" y1="430.8" x2="335.4" y2="580.4" stroke="#000" stroke-width="1.6" stroke-dasharray="4.2 3.2"/>
<line x1="455.4" y1="430.8" x2="455.4" y2="580.4" stroke="#000" stroke-width="1.6" stroke-dasharray="4.2 3.2"/>
<line x1="515.4" y1="430.8" x2="515.4" y2="580.4" stroke="#000" stroke-width="1.6" stroke-dasharray="4.2 3.2"/>
<line x1="292.1" y1="430.1" x2="292.1" y2="584.7" stroke="#000" stroke-width="1.5"/>
<line x1="287.7" y1="580.4" x2="292.1" y2="580.4" stroke="#000" stroke-width="1.4"/>
<line x1="287.7" y1="568.89" x2="292.1" y2="568.89" stroke="#000" stroke-width="1.4"/>
<line x1="287.7" y1="557.38" x2="292.1" y2="557.38" stroke="#000" stroke-width="1.4"/>
<line x1="287.7" y1="545.88" x2="292.1" y2="545.88" stroke="#000" stroke-width="1.4"/>
<line x1="287.7" y1="534.37" x2="292.1" y2="534.37" stroke="#000" stroke-width="1.4"/>
<line x1="287.7" y1="522.86" x2="292.1" y2="522.86" stroke="#000" stroke-width="1.4"/>
<line x1="287.7" y1="511.35" x2="292.1" y2="511.35" stroke="#000" stroke-width="1.4"/>
<line x1="287.7" y1="499.85" x2="292.1" y2="499.85" stroke="#000" stroke-width="1.4"/>
<line x1="287.7" y1="488.34" x2="292.1" y2="488.34" stroke="#000" stroke-width="1.4"/>
<line x1="287.7" y1="476.83" x2="292.1" y2="476.83" stroke="#000" stroke-width="1.4"/>
<line x1="287.7" y1="465.32" x2="292.1" y2="465.32" stroke="#000" stroke-width="1.4"/>
<line x1="287.7" y1="453.82" x2="292.1" y2="453.82" stroke="#000" stroke-width="1.4"/>
<line x1="287.7" y1="442.31" x2="292.1" y2="442.31" stroke="#000" stroke-width="1.4"/>
<line x1="287.7" y1="430.8" x2="292.1" y2="430.8" stroke="#000" stroke-width="1.4"/>
<line x1="287.7" y1="580.4" x2="323.5" y2="580.4" stroke="#000" stroke-width="1.5"/>
<line x1="292.1" y1="580.4" x2="292.1" y2="584.7" stroke="#000" stroke-width="1.4"/>
<line x1="302.57" y1="580.4" x2="302.57" y2="584.7" stroke="#000" stroke-width="1.4"/>
<line x1="313.03" y1="580.4" x2="313.03" y2="584.7" stroke="#000" stroke-width="1.4"/>
<line x1="323.5" y1="580.4" x2="323.5" y2="584.7" stroke="#000" stroke-width="1.4"/>
<line x1="324.2" y1="577.1" x2="323.5" y2="584.6" stroke="#000" stroke-width="1.8"/>
<line x1="335.4" y1="580.4" x2="516.1" y2="580.4" stroke="#000" stroke-width="1.5"/>
<line x1="335.4" y1="577.2" x2="335.4" y2="584.7" stroke="#000" stroke-width="1.5"/>
<line x1="335.4" y1="580.4" x2="335.4" y2="584.7" stroke="#000" stroke-width="1.4"/>
<line x1="355.4" y1="580.4" x2="355.4" y2="584.7" stroke="#000" stroke-width="1.4"/>
<line x1="375.4" y1="580.4" x2="375.4" y2="584.7" stroke="#000" stroke-width="1.4"/>
<line x1="395.4" y1="580.4" x2="395.4" y2="584.7" stroke="#000" stroke-width="1.4"/>
<line x1="415.4" y1="580.4" x2="415.4" y2="584.7" stroke="#000" stroke-width="1.4"/>
<line x1="435.4" y1="580.4" x2="435.4" y2="584.7" stroke="#000" stroke-width="1.4"/>
<line x1="455.4" y1="580.4" x2="455.4" y2="584.7" stroke="#000" stroke-width="1.4"/>
<line x1="475.4" y1="580.4" x2="475.4" y2="584.7" stroke="#000" stroke-width="1.4"/>
<line x1="495.4" y1="580.4" x2="495.4" y2="584.7" stroke="#000" stroke-width="1.4"/>
<line x1="515.4" y1="580.4" x2="515.4" y2="584.7" stroke="#000" stroke-width="1.4"/>
<text transform="translate(294.9 593.1) rotate(-45)" text-anchor="end" font-family='"Liberation Sans", Arial, sans-serif' font-weight="bold" font-size="8.0" stroke="#000" stroke-width="0.2">-30</text>
<text transform="translate(305.37 593.1) rotate(-45)" text-anchor="end" font-family='"Liberation Sans", Arial, sans-serif' font-weight="bold" font-size="8.0" stroke="#000" stroke-width="0.2">-20</text>
<text transform="translate(315.83 593.1) rotate(-45)" text-anchor="end" font-family='"Liberation Sans", Arial, sans-serif' font-weight="bold" font-size="8.0" stroke="#000" stroke-width="0.2">-10</text>
<text transform="translate(326.3 593.1) rotate(-45)" text-anchor="end" font-family='"Liberation Sans", Arial, sans-serif' font-weight="bold" font-size="8.0" stroke="#000" stroke-width="0.2">0</text>
<text transform="translate(338.2 593.1) rotate(-45)" text-anchor="end" font-family='"Liberation Sans", Arial, sans-serif' font-weight="bold" font-size="8.0" stroke="#000" stroke-width="0.2">60</text>
<text transform="translate(358.2 593.1) rotate(-45)" text-anchor="end" font-family='"Liberation Sans", Arial, sans-serif' font-weight="bold" font-size="8.0" stroke="#000" stroke-width="0.2">70</text>
<text transform="translate(378.2 593.1) rotate(-45)" text-anchor="end" font-family='"Liberation Sans", Arial, sans-serif' font-weight="bold" font-size="8.0" stroke="#000" stroke-width="0.2">80</text>
<text transform="translate(398.2 593.1) rotate(-45)" text-anchor="end" font-family='"Liberation Sans", Arial, sans-serif' font-weight="bold" font-size="8.0" stroke="#000" stroke-width="0.2">90</text>
<text transform="translate(418.2 593.1) rotate(-45)" text-anchor="end" font-family='"Liberation Sans", Arial, sans-serif' font-weight="bold" font-size="8.0" stroke="#000" stroke-width="0.2">100</text>
<text transform="translate(438.2 593.1) rotate(-45)" text-anchor="end" font-family='"Liberation Sans", Arial, sans-serif' font-weight="bold" font-size="8.0" stroke="#000" stroke-width="0.2">110</text>
<text transform="translate(458.2 593.1) rotate(-45)" text-anchor="end" font-family='"Liberation Sans", Arial, sans-serif' font-weight="bold" font-size="8.0" stroke="#000" stroke-width="0.2">120</text>
<text transform="translate(478.2 593.1) rotate(-45)" text-anchor="end" font-family='"Liberation Sans", Arial, sans-serif' font-weight="bold" font-size="8.0" stroke="#000" stroke-width="0.2">130</text>
<text transform="translate(498.2 593.1) rotate(-45)" text-anchor="end" font-family='"Liberation Sans", Arial, sans-serif' font-weight="bold" font-size="8.0" stroke="#000" stroke-width="0.2">140</text>
<text transform="translate(518.2 593.1) rotate(-45)" text-anchor="end" font-family='"Liberation Sans", Arial, sans-serif' font-weight="bold" font-size="8.0" stroke="#000" stroke-width="0.2">150</text>
<text x="404.3" y="613.1" text-anchor="middle" font-family='"Liberation Sans", Arial, sans-serif' font-weight="bold" font-size="10.4">Time</text>
<text x="46.6" y="25.9" text-anchor="start" font-family='"Liberation Sans", Arial, sans-serif' font-size="10" fill="#1e1e1e" stroke="#1e1e1e" stroke-width="0.1">Fasting</text>
<text x="145.6" y="25.8" text-anchor="middle" font-family='"Liberation Sans", Arial, sans-serif' font-size="10" fill="#1e1e1e" stroke="#1e1e1e" stroke-width="0.1">Saline</text>
<text x="145.6" y="37" text-anchor="middle" font-family='"Liberation Sans", Arial, sans-serif' font-size="10" fill="#1e1e1e" stroke="#1e1e1e" stroke-width="0.1">Baseline</text>
<text x="236.2" y="25.9" text-anchor="middle" font-family='"Liberation Sans", Arial, sans-serif' font-size="10" fill="#1e1e1e" stroke="#1e1e1e" stroke-width="0.1">Saline</text>
<text x="236.2" y="36.9" text-anchor="middle" font-family='"Liberation Sans", Arial, sans-serif' font-size="10" fill="#1e1e1e" stroke="#1e1e1e" stroke-width="0.1">+ Gcg</text>
<text x="295.4" y="25.5" text-anchor="start" font-family='"Liberation Sans", Arial, sans-serif' font-size="10" fill="#1e1e1e" stroke="#1e1e1e" stroke-width="0.1">Fasting</text>
<text x="395.6" y="25.7" text-anchor="middle" font-family='"Liberation Sans", Arial, sans-serif' font-size="10" fill="#1e1e1e" stroke="#1e1e1e" stroke-width="0.1">Clamp</text>
<text x="395.6" y="36.6" text-anchor="middle" font-family='"Liberation Sans", Arial, sans-serif' font-size="10" fill="#1e1e1e" stroke="#1e1e1e" stroke-width="0.1">Baseline</text>
<text x="486.9" y="25.5" text-anchor="middle" font-family='"Liberation Sans", Arial, sans-serif' font-size="10" fill="#1e1e1e" stroke="#1e1e1e" stroke-width="0.1">Clamp</text>
<text x="486.9" y="36.8" text-anchor="middle" font-family='"Liberation Sans", Arial, sans-serif' font-size="10" fill="#1e1e1e" stroke="#1e1e1e" stroke-width="0.1">+ Gcg</text>
<text x="46.2" y="227.9" text-anchor="start" font-family='"Liberation Sans", Arial, sans-serif' font-size="10" fill="#1e1e1e" stroke="#1e1e1e" stroke-width="0.1">Fasting</text>
<text x="145.4" y="227.7" text-anchor="middle" font-family='"Liberation Sans", Arial, sans-serif' font-size="10" fill="#1e1e1e" stroke="#1e1e1e" stroke-width="0.1">Saline</text>
<text x="145.4" y="238.3" text-anchor="middle" font-family='"Liberation Sans", Arial, sans-serif' font-size="10" fill="#1e1e1e" stroke="#1e1e1e" stroke-width="0.1">Baseline</text>
<text x="236.2" y="227.4" text-anchor="middle" font-family='"Liberation Sans", Arial, sans-serif' font-size="10" fill="#1e1e1e" stroke="#1e1e1e" stroke-width="0.1">Saline</text>
<text x="236.2" y="238.5" text-anchor="middle" font-family='"Liberation Sans", Arial, sans-serif' font-size="10" fill="#1e1e1e" stroke="#1e1e1e" stroke-width="0.1">+ Gcg</text>
<text x="293.8" y="226.7" text-anchor="start" font-family='"Liberation Sans", Arial, sans-serif' font-size="10" fill="#1e1e1e" stroke="#1e1e1e" stroke-width="0.1">Fasting</text>
<text x="396.2" y="226.9" text-anchor="middle" font-family='"Liberation Sans", Arial, sans-serif' font-size="10" fill="#1e1e1e" stroke="#1e1e1e" stroke-width="0.1">Clamp</text>
<text x="396.2" y="238" text-anchor="middle" font-family='"Liberation Sans", Arial, sans-serif' font-size="10" fill="#1e1e1e" stroke="#1e1e1e" stroke-width="0.1">Baseline</text>
<text x="486.5" y="226.6" text-anchor="middle" font-family='"Liberation Sans", Arial, sans-serif' font-size="10" fill="#1e1e1e" stroke="#1e1e1e" stroke-width="0.1">Clamp</text>
<text x="486.5" y="238.3" text-anchor="middle" font-family='"Liberation Sans", Arial, sans-serif' font-size="10" fill="#1e1e1e" stroke="#1e1e1e" stroke-width="0.1">+ Gcg</text>
<text x="48.6" y="441.2" text-anchor="start" font-family='"Liberation Sans", Arial, sans-serif' font-size="10" fill="#1e1e1e" stroke="#1e1e1e" stroke-width="0.1">Fasting</text>
<text x="148" y="440.6" text-anchor="middle" font-family='"Liberation Sans", Arial, sans-serif' font-size="10" fill="#1e1e1e" stroke="#1e1e1e" stroke-width="0.1">Saline</text>
<text x="148" y="451.5" text-anchor="middle" font-family='"Liberation Sans", Arial, sans-serif' font-size="10" fill="#1e1e1e" stroke="#1e1e1e" stroke-width="0.1">Baseline</text>
<text x="238.6" y="440.6" text-anchor="middle" font-family='"Liberation Sans", Arial, sans-serif' font-size="10" fill="#1e1e1e" stroke="#1e1e1e" stroke-width="0.1">Saline</text>
<text x="238.6" y="451.8" text-anchor="middle" font-family='"Liberation Sans", Arial, sans-serif' font-size="10" fill="#1e1e1e" stroke="#1e1e1e" stroke-width="0.1">+ Gcg</text>
<text x="293.6" y="439.5" text-anchor="start" font-family='"Liberation Sans", Arial, sans-serif' font-size="10" fill="#1e1e1e" stroke="#1e1e1e" stroke-width="0.1">Fasting</text>
<text x="396" y="439.5" text-anchor="middle" font-family='"Liberation Sans", Arial, sans-serif' font-size="10" fill="#1e1e1e" stroke="#1e1e1e" stroke-width="0.1">Clamp</text>
<text x="396" y="450.6" text-anchor="middle" font-family='"Liberation Sans", Arial, sans-serif' font-size="10" fill="#1e1e1e" stroke="#1e1e1e" stroke-width="0.1">Baseline</text>
<text x="493.1" y="438.9" text-anchor="middle" font-family='"Liberation Sans", Arial, sans-serif' font-size="10" fill="#1e1e1e" stroke="#1e1e1e" stroke-width="0.1">Clamp</text>
<text x="493.1" y="450.3" text-anchor="middle" font-family='"Liberation Sans", Arial, sans-serif' font-size="10" fill="#1e1e1e" stroke="#1e1e1e" stroke-width="0.1">+ Gcg</text>
<line x1="226.3" y1="135.5" x2="226.3" y2="141.5" stroke="#333" stroke-width="1.0"/>
<line x1="224.1" y1="135.5" x2="228.5" y2="135.5" stroke="#333" stroke-width="1.0"/>
<line x1="224.1" y1="141.5" x2="228.5" y2="141.5" stroke="#333" stroke-width="1.0"/>
<line x1="246.3" y1="119.5" x2="246.3" y2="128.7" stroke="#333" stroke-width="1.0"/>
<line x1="244.1" y1="119.5" x2="248.5" y2="119.5" stroke="#333" stroke-width="1.0"/>
<line x1="244.1" y1="128.7" x2="248.5" y2="128.7" stroke="#333" stroke-width="1.0"/>
<line x1="266.3" y1="106" x2="266.3" y2="123.8" stroke="#333" stroke-width="1.0"/>
<line x1="264.1" y1="106" x2="268.5" y2="106" stroke="#333" stroke-width="1.0"/>
<line x1="264.1" y1="123.8" x2="268.5" y2="123.8" stroke="#333" stroke-width="1.0"/>
<polyline points="43,153.4 53.47,154.1 63.93,154.4 74.4,154.4" fill="none" stroke="#000" stroke-width="1.6" stroke-linejoin="round"/>
<polyline points="86.3,154.3 106.3,154.8 126.3,155.6 146.3,156.9 166.3,156.2 186.3,156 206.3,155.3 226.3,138.4 246.3,124 266.3,114.5" fill="none" stroke="#000" stroke-width="1.6" stroke-linejoin="round"/>
<rect x="40.4" y="150.8" width="5.2" height="5.2" fill="#000"/>
<rect x="50.87" y="151.5" width="5.2" height="5.2" fill="#000"/>
<rect x="61.33" y="151.8" width="5.2" height="5.2" fill="#000"/>
<rect x="71.8" y="151.8" width="5.2" height="5.2" fill="#000"/>
<rect x="83.7" y="151.7" width="5.2" height="5.2" fill="#000"/>
<rect x="103.7" y="152.2" width="5.2" height="5.2" fill="#000"/>
<rect x="123.7" y="153" width="5.2" height="5.2" fill="#000"/>
<rect x="143.7" y="154.3" width="5.2" height="5.2" fill="#000"/>
<rect x="163.7" y="153.6" width="5.2" height="5.2" fill="#000"/>
<rect x="183.7" y="153.4" width="5.2" height="5.2" fill="#000"/>
<rect x="203.7" y="152.7" width="5.2" height="5.2" fill="#000"/>
<rect x="223.7" y="135.8" width="5.2" height="5.2" fill="#000"/>
<rect x="243.7" y="121.4" width="5.2" height="5.2" fill="#000"/>
<rect x="263.7" y="111.9" width="5.2" height="5.2" fill="#000"/>
<line x1="292.1" y1="151" x2="292.1" y2="156.5" stroke="#333" stroke-width="1.0"/>
<line x1="289.9" y1="151" x2="294.3" y2="151" stroke="#333" stroke-width="1.0"/>
<line x1="289.9" y1="156.5" x2="294.3" y2="156.5" stroke="#333" stroke-width="1.0"/>
<line x1="323.5" y1="152.5" x2="323.5" y2="157" stroke="#333" stroke-width="1.0"/>
<line x1="321.3" y1="152.5" x2="325.7" y2="152.5" stroke="#333" stroke-width="1.0"/>
<line x1="321.3" y1="157" x2="325.7" y2="157" stroke="#333" stroke-width="1.0"/>
<line x1="335.4" y1="127.1" x2="335.4" y2="135.6" stroke="#333" stroke-width="1.0"/>
<line x1="333.2" y1="127.1" x2="337.6" y2="127.1" stroke="#333" stroke-width="1.0"/>
<line x1="333.2" y1="135.6" x2="337.6" y2="135.6" stroke="#333" stroke-width="1.0"/>
<line x1="355.4" y1="125.1" x2="355.4" y2="133.3" stroke="#333" stroke-width="1.0"/>
<line x1="353.2" y1="125.1" x2="357.6" y2="125.1" stroke="#333" stroke-width="1.0"/>
<line x1="353.2" y1="133.3" x2="357.6" y2="133.3" stroke="#333" stroke-width="1.0"/>
<line x1="375.4" y1="123.8" x2="375.4" y2="132.4" stroke="#333" stroke-width="1.0"/>
<line x1="373.2" y1="123.8" x2="377.6" y2="123.8" stroke="#333" stroke-width="1.0"/>
<line x1="373.2" y1="132.4" x2="377.6" y2="132.4" stroke="#333" stroke-width="1.0"/>
<line x1="395.4" y1="121.3" x2="395.4" y2="130" stroke="#333" stroke-width="1.0"/>
<line x1="393.2" y1="121.3" x2="397.6" y2="121.3" stroke="#333" stroke-width="1.0"/>
<line x1="393.2" y1="130" x2="397.6" y2="130" stroke="#333" stroke-width="1.0"/>
<line x1="415.4" y1="116.3" x2="415.4" y2="127.6" stroke="#333" stroke-width="1.0"/>
<line x1="413.2" y1="116.3" x2="417.6" y2="116.3" stroke="#333" stroke-width="1.0"/>
<line x1="413.2" y1="127.6" x2="417.6" y2="127.6" stroke="#333" stroke-width="1.0"/>
<line x1="435.4" y1="117.5" x2="435.4" y2="126.8" stroke="#333" stroke-width="1.0"/>
<line x1="433.2" y1="117.5" x2="437.6" y2="117.5" stroke="#333" stroke-width="1.0"/>
<line x1="433.2" y1="126.8" x2="437.6" y2="126.8" stroke="#333" stroke-width="1.0"/>
<line x1="455.4" y1="119.5" x2="455.4" y2="129" stroke="#333" stroke-width="1.0"/>
<line x1="453.2" y1="119.5" x2="457.6" y2="119.5" stroke="#333" stroke-width="1.0"/>
<line x1="453.2" y1="129" x2="457.6" y2="129" stroke="#333" stroke-width="1.0"/>
<line x1="475.4" y1="62" x2="475.4" y2="82.8" stroke="#333" stroke-width="1.0"/>
<line x1="473.2" y1="62" x2="477.6" y2="62" stroke="#333" stroke-width="1.0"/>
<line x1="473.2" y1="82.8" x2="477.6" y2="82.8" stroke="#333" stroke-width="1.0"/>
<line x1="495.4" y1="45.4" x2="495.4" y2="63.2" stroke="#333" stroke-width="1.0"/>
<line x1="493.2" y1="45.4" x2="497.6" y2="45.4" stroke="#333" stroke-width="1.0"/>
<line x1="493.2" y1="63.2" x2="497.6" y2="63.2" stroke="#333" stroke-width="1.0"/>
<line x1="515.4" y1="36.8" x2="515.4" y2="64.4" stroke="#333" stroke-width="1.0"/>
<line x1="513.2" y1="36.8" x2="517.6" y2="36.8" stroke="#333" stroke-width="1.0"/>
<line x1="513.2" y1="64.4" x2="517.6" y2="64.4" stroke="#333" stroke-width="1.0"/>
<polyline points="292.1,153.7 302.57,153.8 313.03,154.1 323.5,154.8" fill="none" stroke="#000" stroke-width="1.6" stroke-linejoin="round"/>
<polyline points="335.4,131.3 355.4,129.4 375.4,128 395.4,125.8 415.4,122.1 435.4,122.5 455.4,123.1 475.4,72.6 495.4,54 515.4,50.6" fill="none" stroke="#000" stroke-width="1.6" stroke-linejoin="round"/>
<circle cx="292.1" cy="153.7" r="2.7" fill="#000"/>
<circle cx="302.57" cy="153.8" r="2.7" fill="#000"/>
<circle cx="313.03" cy="154.1" r="2.7" fill="#000"/>
<circle cx="323.5" cy="154.8" r="2.7" fill="#000"/>
<circle cx="335.4" cy="131.3" r="2.7" fill="#000"/>
<circle cx="355.4" cy="129.4" r="2.7" fill="#000"/>
<circle cx="375.4" cy="128" r="2.7" fill="#000"/>
<circle cx="395.4" cy="125.8" r="2.7" fill="#000"/>
<circle cx="415.4" cy="122.1" r="2.7" fill="#000"/>
<circle cx="435.4" cy="122.5" r="2.7" fill="#000"/>
<circle cx="455.4" cy="123.1" r="2.7" fill="#000"/>
<circle cx="475.4" cy="72.6" r="2.7" fill="#000"/>
<circle cx="495.4" cy="54" r="2.7" fill="#000"/>
<circle cx="515.4" cy="50.6" r="2.7" fill="#000"/>
<line x1="246.3" y1="336" x2="246.3" y2="347.1" stroke="#444" stroke-width="1.0"/>
<line x1="244.1" y1="336" x2="248.5" y2="336" stroke="#444" stroke-width="1.0"/>
<line x1="244.1" y1="347.1" x2="248.5" y2="347.1" stroke="#444" stroke-width="1.0"/>
<line x1="266.3" y1="325.3" x2="266.3" y2="343.3" stroke="#444" stroke-width="1.0"/>
<line x1="264.1" y1="325.3" x2="268.5" y2="325.3" stroke="#444" stroke-width="1.0"/>
<line x1="264.1" y1="343.3" x2="268.5" y2="343.3" stroke="#444" stroke-width="1.0"/>
<polyline points="43,362.6 53.47,362.8 63.93,363.1 74.4,363.3" fill="none" stroke="#000" stroke-width="1.6" stroke-linejoin="round"/>
<polyline points="86.3,362.9 106.3,363.6 126.3,363.1 146.3,363.6 166.3,363.3 186.3,363.3 206.3,363.3 226.3,352.5 246.3,342 266.3,334.3" fill="none" stroke="#000" stroke-width="1.6" stroke-linejoin="round"/>
<rect x="40.4" y="360" width="5.2" height="5.2" fill="#000"/>
<rect x="50.87" y="360.2" width="5.2" height="5.2" fill="#000"/>
<rect x="61.33" y="360.5" width="5.2" height="5.2" fill="#000"/>
<rect x="71.8" y="360.7" width="5.2" height="5.2" fill="#000"/>
<rect x="83.7" y="360.3" width="5.2" height="5.2" fill="#000"/>
<rect x="103.7" y="361" width="5.2" height="5.2" fill="#000"/>
<rect x="123.7" y="360.5" width="5.2" height="5.2" fill="#000"/>
<rect x="143.7" y="361" width="5.2" height="5.2" fill="#000"/>
<rect x="163.7" y="360.7" width="5.2" height="5.2" fill="#000"/>
<rect x="183.7" y="360.7" width="5.2" height="5.2" fill="#000"/>
<rect x="203.7" y="360.7" width="5.2" height="5.2" fill="#000"/>
<rect x="223.7" y="349.9" width="5.2" height="5.2" fill="#000"/>
<rect x="243.7" y="339.4" width="5.2" height="5.2" fill="#000"/>
<rect x="263.7" y="331.7" width="5.2" height="5.2" fill="#000"/>
<line x1="475.4" y1="278.9" x2="475.4" y2="305.5" stroke="#555" stroke-width="1.0"/>
<line x1="473.2" y1="278.9" x2="477.6" y2="278.9" stroke="#555" stroke-width="1.0"/>
<line x1="473.2" y1="305.5" x2="477.6" y2="305.5" stroke="#555" stroke-width="1.0"/>
<line x1="495.4" y1="244.6" x2="495.4" y2="278.2" stroke="#555" stroke-width="1.0"/>
<line x1="493.2" y1="244.6" x2="497.6" y2="244.6" stroke="#555" stroke-width="1.0"/>
<line x1="493.2" y1="278.2" x2="497.6" y2="278.2" stroke="#555" stroke-width="1.0"/>
<line x1="515.4" y1="236.5" x2="515.4" y2="283" stroke="#555" stroke-width="1.0"/>
<line x1="513.2" y1="236.5" x2="517.6" y2="236.5" stroke="#555" stroke-width="1.0"/>
<line x1="513.2" y1="283" x2="517.6" y2="283" stroke="#555" stroke-width="1.0"/>
<polyline points="292.1,363.5 302.57,362.9 313.03,363.5 323.5,363.6" fill="none" stroke="#000" stroke-width="1.6" stroke-linejoin="round"/>
<polyline points="335.4,356.3 355.4,354.5 375.4,355.2 395.4,354.2 415.4,352.6 435.4,352.7 455.4,352.5 475.4,291.9 495.4,261.3 515.4,259.5" fill="none" stroke="#000" stroke-width="1.6" stroke-linejoin="round"/>
<circle cx="292.1" cy="363.5" r="2.7" fill="#000"/>
<circle cx="302.57" cy="362.9" r="2.7" fill="#000"/>
<circle cx="313.03" cy="363.5" r="2.7" fill="#000"/>
<circle cx="323.5" cy="363.6" r="2.7" fill="#000"/>
<circle cx="335.4" cy="356.3" r="2.7" fill="#000"/>
<circle cx="355.4" cy="354.5" r="2.7" fill="#000"/>
<circle cx="375.4" cy="355.2" r="2.7" fill="#000"/>
<circle cx="395.4" cy="354.2" r="2.7" fill="#000"/>
<circle cx="415.4" cy="352.6" r="2.7" fill="#000"/>
<circle cx="435.4" cy="352.7" r="2.7" fill="#000"/>
<circle cx="455.4" cy="352.5" r="2.7" fill="#000"/>
<circle cx="475.4" cy="291.9" r="2.7" fill="#000"/>
<circle cx="495.4" cy="261.3" r="2.7" fill="#000"/>
<circle cx="515.4" cy="259.5" r="2.7" fill="#000"/>
<polygon points="40.3,571 50,571.8 60,572.2 70,571.7 77.5,571.3 77.5,576.2 65,576.5 50,576.4 40.3,575.9" fill="#000"/>
<line x1="44" y1="577.3" x2="76" y2="577.3" stroke="#555" stroke-width="0.7"/>
<polygon points="86,571 93.1,571 93.1,576.8 86,576.8" fill="#000"/>
<polygon points="95,571 100.8,571 100.8,576.8 95,576.8" fill="#000"/>
<line x1="93" y1="573.9" x2="95" y2="573.9" stroke="#000" stroke-width="1.2"/>
<line x1="100.8" y1="573.9" x2="103.7" y2="573.9" stroke="#000" stroke-width="1.2"/>
<line x1="149" y1="578.3" x2="206" y2="578.0" stroke="#666" stroke-width="0.8"/>
<polygon points="103.7,571 108,571.2 115,571.9 125,572.4 135,572.9 144.5,573.3 147,572.6 150,572 160,571.9 175,571.6 190,571.4 209.1,571.2 209.1,576.8 190,576.8 175,577 160,577.3 150,577.5 147,577.9 144.5,578.3 135,577.6 125,577.2 115,576.7 108,576.6 103.7,576.8" fill="#000"/>
<line x1="207.9" y1="575" x2="207.3" y2="556" stroke="#000" stroke-width="1.4"/>
<polygon points="206,553 212,547.5 218,543 222.5,540.2 224.5,538.6 228.5,537.6 231,535.1 236,532.5 241,530 244.5,528.4 244.5,539.8 241,540.6 236,543 231,546 226.5,548 222.5,549.6 218,552.5 212,556.5 206,561" fill="#000"/>
<line x1="245.6" y1="527.39" x2="245.6" y2="544.36" stroke="#111" stroke-width="1.0"/>
<line x1="247.75" y1="526.62" x2="247.75" y2="544.23" stroke="#111" stroke-width="1.0"/>
<line x1="249.9" y1="525.86" x2="249.9" y2="544.1" stroke="#111" stroke-width="1.0"/>
<line x1="252.05" y1="525.1" x2="252.05" y2="543.97" stroke="#111" stroke-width="1.0"/>
<line x1="254.2" y1="524.33" x2="254.2" y2="543.84" stroke="#111" stroke-width="1.0"/>
<line x1="256.35" y1="523.57" x2="256.35" y2="543.71" stroke="#111" stroke-width="1.0"/>
<line x1="258.5" y1="522.81" x2="258.5" y2="543.58" stroke="#111" stroke-width="1.0"/>
<line x1="260.65" y1="522.04" x2="260.65" y2="543.45" stroke="#111" stroke-width="1.0"/>
<line x1="262.8" y1="521.28" x2="262.8" y2="543.32" stroke="#111" stroke-width="1.0"/>
<line x1="264.95" y1="520.51" x2="264.95" y2="543.19" stroke="#111" stroke-width="1.0"/>
<polyline points="245,527.6 266.4,520" fill="none" stroke="#111" stroke-width="1.0" stroke-linejoin="round"/>
<polyline points="245,544.4 266.4,543.1" fill="none" stroke="#111" stroke-width="1.0" stroke-linejoin="round"/>
<polyline points="243.5,535 246.5,534.6 255,533.4 266.4,532.4" fill="none" stroke="#000" stroke-width="5.4" stroke-linejoin="round"/>
<polygon points="244,530 244,539.8 247,539.6 252,536 252,531" fill="#000"/>
<rect x="265" y="529.6" width="3.2" height="5.6" fill="#000"/>
<polyline points="292.1,572.9 297,572.8 302.5,573 308,573.9 313,574.1 318,574.4 324,574.6" fill="none" stroke="#000" stroke-width="4.4" stroke-linejoin="round"/>
<circle cx="292.1" cy="573" r="2.6" fill="#000"/>
<circle cx="324.6" cy="570" r="2.7" fill="#000"/>
<line x1="324.6" y1="570" x2="324.6" y2="576.5" stroke="#000" stroke-width="2.2"/>
<line x1="396.5" y1="545.22" x2="396.5" y2="550.64" stroke="#111" stroke-width="1.0"/>
<line x1="398.7" y1="544.8" x2="398.7" y2="550.29" stroke="#111" stroke-width="1.0"/>
<line x1="400.9" y1="544.37" x2="400.9" y2="549.95" stroke="#111" stroke-width="1.0"/>
<line x1="403.1" y1="543.94" x2="403.1" y2="549.6" stroke="#111" stroke-width="1.0"/>
<line x1="405.3" y1="543.51" x2="405.3" y2="549.26" stroke="#111" stroke-width="1.0"/>
<line x1="407.5" y1="543.08" x2="407.5" y2="549" stroke="#111" stroke-width="1.0"/>
<line x1="409.7" y1="542.66" x2="409.7" y2="548.73" stroke="#111" stroke-width="1.0"/>
<line x1="411.9" y1="542.23" x2="411.9" y2="548.46" stroke="#111" stroke-width="1.0"/>
<line x1="414.1" y1="541.8" x2="414.1" y2="548.19" stroke="#111" stroke-width="1.0"/>
<line x1="416.3" y1="541.37" x2="416.3" y2="547.92" stroke="#111" stroke-width="1.0"/>
<line x1="396.5" y1="550.64" x2="396.5" y2="555" stroke="#111" stroke-width="1.0"/>
<line x1="398.7" y1="550.29" x2="398.7" y2="554.96" stroke="#111" stroke-width="1.0"/>
<line x1="400.9" y1="549.95" x2="400.9" y2="554.91" stroke="#111" stroke-width="1.0"/>
<line x1="403.1" y1="549.6" x2="403.1" y2="554.87" stroke="#111" stroke-width="1.0"/>
<line x1="405.3" y1="549.26" x2="405.3" y2="554.82" stroke="#111" stroke-width="1.0"/>
<line x1="407.5" y1="549" x2="407.5" y2="554.78" stroke="#111" stroke-width="1.0"/>
<line x1="409.7" y1="548.73" x2="409.7" y2="554.74" stroke="#111" stroke-width="1.0"/>
<line x1="411.9" y1="548.46" x2="411.9" y2="554.69" stroke="#111" stroke-width="1.0"/>
<line x1="414.1" y1="548.19" x2="414.1" y2="554.65" stroke="#111" stroke-width="1.0"/>
<line x1="416.3" y1="547.92" x2="416.3" y2="554.6" stroke="#111" stroke-width="1.0"/>
<polyline points="395.6,545.4 417.7,541.1" fill="none" stroke="#111" stroke-width="1.1" stroke-linejoin="round"/>
<polyline points="396.5,555 416.5,554.6" fill="none" stroke="#111" stroke-width="1.0" stroke-linejoin="round"/>
<line x1="338" y1="549.75" x2="338" y2="557.55" stroke="#444" stroke-width="0.6"/>
<line x1="337.3" y1="549.75" x2="338.7" y2="549.75" stroke="#555" stroke-width="0.5"/>
<line x1="337.3" y1="557.55" x2="338.7" y2="557.55" stroke="#555" stroke-width="0.5"/>
<line x1="341.1" y1="549.82" x2="341.1" y2="557.62" stroke="#444" stroke-width="0.6"/>
<line x1="340.4" y1="549.82" x2="341.8" y2="549.82" stroke="#555" stroke-width="0.5"/>
<line x1="340.4" y1="557.62" x2="341.8" y2="557.62" stroke="#555" stroke-width="0.5"/>
<line x1="344.2" y1="549.88" x2="344.2" y2="557.68" stroke="#444" stroke-width="0.6"/>
<line x1="343.5" y1="549.88" x2="344.9" y2="549.88" stroke="#555" stroke-width="0.5"/>
<line x1="343.5" y1="557.68" x2="344.9" y2="557.68" stroke="#555" stroke-width="0.5"/>
<line x1="347.3" y1="549.93" x2="347.3" y2="557.73" stroke="#444" stroke-width="0.6"/>
<line x1="346.6" y1="549.93" x2="348" y2="549.93" stroke="#555" stroke-width="0.5"/>
<line x1="346.6" y1="557.73" x2="348" y2="557.73" stroke="#555" stroke-width="0.5"/>
<line x1="350.4" y1="549.97" x2="350.4" y2="557.77" stroke="#444" stroke-width="0.6"/>
<line x1="349.7" y1="549.97" x2="351.1" y2="549.97" stroke="#555" stroke-width="0.5"/>
<line x1="349.7" y1="557.77" x2="351.1" y2="557.77" stroke="#555" stroke-width="0.5"/>
<line x1="353.5" y1="550.01" x2="353.5" y2="557.81" stroke="#444" stroke-width="0.6"/>
<line x1="352.8" y1="550.01" x2="354.2" y2="550.01" stroke="#555" stroke-width="0.5"/>
<line x1="352.8" y1="557.81" x2="354.2" y2="557.81" stroke="#555" stroke-width="0.5"/>
<line x1="356.6" y1="550.05" x2="356.6" y2="557.85" stroke="#444" stroke-width="0.6"/>
<line x1="355.9" y1="550.05" x2="357.3" y2="550.05" stroke="#555" stroke-width="0.5"/>
<line x1="355.9" y1="557.85" x2="357.3" y2="557.85" stroke="#555" stroke-width="0.5"/>
<line x1="359.7" y1="550.1" x2="359.7" y2="557.9" stroke="#444" stroke-width="0.6"/>
<line x1="359" y1="550.1" x2="360.4" y2="550.1" stroke="#555" stroke-width="0.5"/>
<line x1="359" y1="557.9" x2="360.4" y2="557.9" stroke="#555" stroke-width="0.5"/>
<line x1="362.8" y1="549.97" x2="362.8" y2="557.77" stroke="#444" stroke-width="0.6"/>
<line x1="362.1" y1="549.97" x2="363.5" y2="549.97" stroke="#555" stroke-width="0.5"/>
<line x1="362.1" y1="557.77" x2="363.5" y2="557.77" stroke="#555" stroke-width="0.5"/>
<line x1="365.9" y1="549.82" x2="365.9" y2="557.62" stroke="#444" stroke-width="0.6"/>
<line x1="365.2" y1="549.82" x2="366.6" y2="549.82" stroke="#555" stroke-width="0.5"/>
<line x1="365.2" y1="557.62" x2="366.6" y2="557.62" stroke="#555" stroke-width="0.5"/>
<line x1="369" y1="549.68" x2="369" y2="557.48" stroke="#444" stroke-width="0.6"/>
<line x1="368.3" y1="549.68" x2="369.7" y2="549.68" stroke="#555" stroke-width="0.5"/>
<line x1="368.3" y1="557.48" x2="369.7" y2="557.48" stroke="#555" stroke-width="0.5"/>
<line x1="372.1" y1="549.54" x2="372.1" y2="557.34" stroke="#444" stroke-width="0.6"/>
<line x1="371.4" y1="549.54" x2="372.8" y2="549.54" stroke="#555" stroke-width="0.5"/>
<line x1="371.4" y1="557.34" x2="372.8" y2="557.34" stroke="#555" stroke-width="0.5"/>
<line x1="375.2" y1="549.38" x2="375.2" y2="557.18" stroke="#444" stroke-width="0.6"/>
<line x1="374.5" y1="549.38" x2="375.9" y2="549.38" stroke="#555" stroke-width="0.5"/>
<line x1="374.5" y1="557.18" x2="375.9" y2="557.18" stroke="#555" stroke-width="0.5"/>
<line x1="378.3" y1="549.07" x2="378.3" y2="556.87" stroke="#444" stroke-width="0.6"/>
<line x1="377.6" y1="549.07" x2="379" y2="549.07" stroke="#555" stroke-width="0.5"/>
<line x1="377.6" y1="556.87" x2="379" y2="556.87" stroke="#555" stroke-width="0.5"/>
<line x1="381.4" y1="548.76" x2="381.4" y2="556.56" stroke="#444" stroke-width="0.6"/>
<line x1="380.7" y1="548.76" x2="382.1" y2="548.76" stroke="#555" stroke-width="0.5"/>
<line x1="380.7" y1="556.56" x2="382.1" y2="556.56" stroke="#555" stroke-width="0.5"/>
<line x1="384.5" y1="548.45" x2="384.5" y2="556.25" stroke="#444" stroke-width="0.6"/>
<line x1="383.8" y1="548.45" x2="385.2" y2="548.45" stroke="#555" stroke-width="0.5"/>
<line x1="383.8" y1="556.25" x2="385.2" y2="556.25" stroke="#555" stroke-width="0.5"/>
<line x1="387.6" y1="548.15" x2="387.6" y2="555.95" stroke="#444" stroke-width="0.6"/>
<line x1="386.9" y1="548.15" x2="388.3" y2="548.15" stroke="#555" stroke-width="0.5"/>
<line x1="386.9" y1="555.95" x2="388.3" y2="555.95" stroke="#555" stroke-width="0.5"/>
<line x1="390.7" y1="547.86" x2="390.7" y2="555.66" stroke="#444" stroke-width="0.6"/>
<line x1="390" y1="547.86" x2="391.4" y2="547.86" stroke="#555" stroke-width="0.5"/>
<line x1="390" y1="555.66" x2="391.4" y2="555.66" stroke="#555" stroke-width="0.5"/>
<line x1="393.8" y1="547.56" x2="393.8" y2="555.36" stroke="#444" stroke-width="0.6"/>
<line x1="393.1" y1="547.56" x2="394.5" y2="547.56" stroke="#555" stroke-width="0.5"/>
<line x1="393.1" y1="555.36" x2="394.5" y2="555.36" stroke="#555" stroke-width="0.5"/>
<polyline points="335.4,553.6 345,553.8 360,554 375,553.3 385,552.3 395.5,551.3" fill="none" stroke="#000" stroke-width="6.2" stroke-linejoin="round"/>
<polyline points="395.5,550.8 405,549.3 416.5,547.9" fill="none" stroke="#000" stroke-width="4.8" stroke-linejoin="round"/>
<polyline points="416.3,547.9 417.5,550.6" fill="none" stroke="#000" stroke-width="5.5" stroke-linejoin="round"/>
<polyline points="417.2,550.6 425,551.6 435,552.9 445,554 455.5,555.3" fill="none" stroke="#000" stroke-width="6.8" stroke-linejoin="round"/>
<circle cx="335.4" cy="553.4" r="3.2" fill="#000"/>
<circle cx="455.5" cy="555.3" r="3.2" fill="#000"/>
<line x1="457.2" y1="556" x2="457.2" y2="503" stroke="#000" stroke-width="1.3"/>
<line x1="457.6" y1="493.5" x2="457.6" y2="514.5" stroke="#333" stroke-width="1.0"/>
<line x1="456" y1="493.5" x2="459.2" y2="493.5" stroke="#333" stroke-width="1.0"/>
<line x1="456" y1="514.5" x2="459.2" y2="514.5" stroke="#333" stroke-width="1.0"/>
<line x1="459.62" y1="488.13" x2="459.62" y2="510.03" stroke="#333" stroke-width="1.0"/>
<line x1="458.02" y1="488.13" x2="461.22" y2="488.13" stroke="#333" stroke-width="1.0"/>
<line x1="458.02" y1="510.03" x2="461.22" y2="510.03" stroke="#333" stroke-width="1.0"/>
<line x1="461.64" y1="482.76" x2="461.64" y2="505.56" stroke="#333" stroke-width="1.0"/>
<line x1="460.04" y1="482.76" x2="463.24" y2="482.76" stroke="#333" stroke-width="1.0"/>
<line x1="460.04" y1="505.56" x2="463.24" y2="505.56" stroke="#333" stroke-width="1.0"/>
<line x1="463.67" y1="477.38" x2="463.67" y2="501.08" stroke="#333" stroke-width="1.0"/>
<line x1="462.07" y1="477.38" x2="465.27" y2="477.38" stroke="#333" stroke-width="1.0"/>
<line x1="462.07" y1="501.08" x2="465.27" y2="501.08" stroke="#333" stroke-width="1.0"/>
<line x1="465.69" y1="472.01" x2="465.69" y2="496.61" stroke="#333" stroke-width="1.0"/>
<line x1="464.09" y1="472.01" x2="467.29" y2="472.01" stroke="#333" stroke-width="1.0"/>
<line x1="464.09" y1="496.61" x2="467.29" y2="496.61" stroke="#333" stroke-width="1.0"/>
<line x1="467.71" y1="466.64" x2="467.71" y2="492.14" stroke="#333" stroke-width="1.0"/>
<line x1="466.11" y1="466.64" x2="469.31" y2="466.64" stroke="#333" stroke-width="1.0"/>
<line x1="466.11" y1="492.14" x2="469.31" y2="492.14" stroke="#333" stroke-width="1.0"/>
<line x1="469.73" y1="461.27" x2="469.73" y2="487.67" stroke="#333" stroke-width="1.0"/>
<line x1="468.13" y1="461.27" x2="471.33" y2="461.27" stroke="#333" stroke-width="1.0"/>
<line x1="468.13" y1="487.67" x2="471.33" y2="487.67" stroke="#333" stroke-width="1.0"/>
<line x1="471.76" y1="455.89" x2="471.76" y2="483.19" stroke="#333" stroke-width="1.0"/>
<line x1="470.16" y1="455.89" x2="473.36" y2="455.89" stroke="#333" stroke-width="1.0"/>
<line x1="470.16" y1="483.19" x2="473.36" y2="483.19" stroke="#333" stroke-width="1.0"/>
<line x1="473.78" y1="450.52" x2="473.78" y2="478.72" stroke="#333" stroke-width="1.0"/>
<line x1="472.18" y1="450.52" x2="475.38" y2="450.52" stroke="#333" stroke-width="1.0"/>
<line x1="472.18" y1="478.72" x2="475.38" y2="478.72" stroke="#333" stroke-width="1.0"/>
<line x1="475.8" y1="445.15" x2="475.8" y2="474.25" stroke="#333" stroke-width="1.0"/>
<line x1="474.2" y1="445.15" x2="477.4" y2="445.15" stroke="#333" stroke-width="1.0"/>
<line x1="474.2" y1="474.25" x2="477.4" y2="474.25" stroke="#333" stroke-width="1.0"/>
<polyline points="457.6,504 459.62,499.08 461.64,494.16 463.67,489.23 465.69,484.31 467.71,479.39 469.73,474.47 471.76,469.54 473.78,464.62 475.8,459.7" fill="none" stroke="#000" stroke-width="2.0" stroke-linejoin="round"/>
<circle cx="457.6" cy="504" r="2.85" fill="#000"/>
<circle cx="459.62" cy="499.08" r="2.85" fill="#000"/>
<circle cx="461.64" cy="494.16" r="2.85" fill="#000"/>
<circle cx="463.67" cy="489.23" r="2.85" fill="#000"/>
<circle cx="465.69" cy="484.31" r="2.85" fill="#000"/>
<circle cx="467.71" cy="479.39" r="2.85" fill="#000"/>
<circle cx="469.73" cy="474.47" r="2.85" fill="#000"/>
<circle cx="471.76" cy="469.54" r="2.85" fill="#000"/>
<circle cx="473.78" cy="464.62" r="2.85" fill="#000"/>
<circle cx="475.8" cy="459.7" r="2.85" fill="#000"/>
<line x1="476.4" y1="459.7" x2="477.2" y2="489.4" stroke="#000" stroke-width="1.4"/>
<line x1="477" y1="481.5" x2="477" y2="496.6" stroke="#1a1a1a" stroke-width="0.95"/>
<line x1="479.05" y1="481.06" x2="479.05" y2="496.59" stroke="#1a1a1a" stroke-width="0.95"/>
<line x1="481.1" y1="480.61" x2="481.1" y2="496.58" stroke="#1a1a1a" stroke-width="0.95"/>
<line x1="483.15" y1="480.17" x2="483.15" y2="496.57" stroke="#1a1a1a" stroke-width="0.95"/>
<line x1="485.2" y1="479.73" x2="485.2" y2="496.56" stroke="#1a1a1a" stroke-width="0.95"/>
<line x1="487.25" y1="479.28" x2="487.25" y2="496.54" stroke="#1a1a1a" stroke-width="0.95"/>
<line x1="489.3" y1="478.84" x2="489.3" y2="496.53" stroke="#1a1a1a" stroke-width="0.95"/>
<line x1="491.35" y1="478.4" x2="491.35" y2="496.52" stroke="#1a1a1a" stroke-width="0.95"/>
<line x1="493.4" y1="477.95" x2="493.4" y2="496.51" stroke="#1a1a1a" stroke-width="0.95"/>
<line x1="495.45" y1="477.51" x2="495.45" y2="496.5" stroke="#1a1a1a" stroke-width="0.95"/>
<polyline points="477,481.5 495.5,477.5" fill="none" stroke="#1a1a1a" stroke-width="1.0" stroke-linejoin="round"/>
<polyline points="477,496.6 495.5,496.5" fill="none" stroke="#1a1a1a" stroke-width="1.0" stroke-linejoin="round"/>
<line x1="497.5" y1="478.6" x2="497.5" y2="505" stroke="#1a1a1a" stroke-width="0.95"/>
<line x1="499.55" y1="478" x2="499.55" y2="505.96" stroke="#1a1a1a" stroke-width="0.95"/>
<line x1="501.6" y1="477.39" x2="501.6" y2="506.91" stroke="#1a1a1a" stroke-width="0.95"/>
<line x1="503.65" y1="476.79" x2="503.65" y2="507.87" stroke="#1a1a1a" stroke-width="0.95"/>
<line x1="505.7" y1="476.19" x2="505.7" y2="508.83" stroke="#1a1a1a" stroke-width="0.95"/>
<line x1="507.75" y1="475.58" x2="507.75" y2="509.78" stroke="#1a1a1a" stroke-width="0.95"/>
<line x1="509.8" y1="474.98" x2="509.8" y2="510.74" stroke="#1a1a1a" stroke-width="0.95"/>
<line x1="511.85" y1="474.37" x2="511.85" y2="511.7" stroke="#1a1a1a" stroke-width="0.95"/>
<line x1="513.9" y1="473.77" x2="513.9" y2="512.65" stroke="#1a1a1a" stroke-width="0.95"/>
<polyline points="497.5,478.6 515.5,473.3" fill="none" stroke="#1a1a1a" stroke-width="1.0" stroke-linejoin="round"/>
<polyline points="497.5,505 515.5,513.4" fill="none" stroke="#1a1a1a" stroke-width="1.0" stroke-linejoin="round"/>
<polyline points="477,489.4 486,487.4 495.5,485.4" fill="none" stroke="#000" stroke-width="5.4" stroke-linejoin="round"/>
<line x1="495.5" y1="485.4" x2="497.5" y2="492.4" stroke="#000" stroke-width="5"/>
<polyline points="497.5,492.4 506,492.6 515.5,492.8" fill="none" stroke="#000" stroke-width="5.4" stroke-linejoin="round"/>
<circle cx="477.3" cy="489.4" r="3" fill="#000"/>
<circle cx="515.5" cy="492.8" r="3" fill="#000"/>
</svg>
</body></html>
